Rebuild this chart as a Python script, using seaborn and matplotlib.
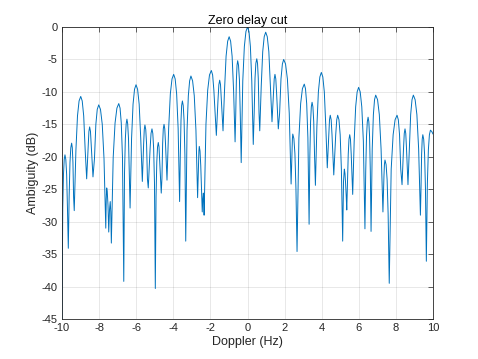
import numpy as np
import pandas as pd
import matplotlib
matplotlib.use('Agg')
import matplotlib.pyplot as plt
import seaborn as sns

# zero delay cut (nulls, shoulders, peaks)
doppler_hz = [
    -10.00, -9.96, -9.92, -9.88, -9.84, -9.795, -9.75, -9.705, -9.66,
    -9.615, -9.57, -9.525, -9.48, -9.445, -9.41, -9.375, -9.34,
    -9.25, -9.165, -9.08, -8.99, -8.91, -8.83, -8.75, -8.67,
    -8.59, -8.55, -8.51, -8.465, -8.42, -8.33,
    -8.25, -8.175, -8.10, -8.02, -7.925, -7.83, -7.735, -7.64,
    -7.615, -7.59, -7.56, -7.52, -7.48, -7.44, -7.40, -7.37, -7.34,
    -7.24, -7.14, -7.04, -6.94, -6.87, -6.805, -6.74, -6.67,
    -6.63, -6.585, -6.54, -6.50, -6.46, -6.415, -6.37, -6.33,
    -6.25, -6.17, -6.09, -6.01, -5.925, -5.84, -5.755, -5.67,
    -5.60, -5.565, -5.53, -5.485, -5.44, -5.395, -5.35,
    -5.25, -5.20, -5.15, -5.105, -5.06, -5.015, -4.97,
    -4.93, -4.89, -4.85, -4.81, -4.77, -4.73, -4.65,
    -4.6125, -4.575, -4.54, -4.50, -4.46, -4.42, -4.34,
    -4.25, -4.16, -4.07, -3.98, -3.90, -3.82, -3.74, -3.66,
    -3.6225, -3.585, -3.55, -3.51, -3.465, -3.42, -3.375, -3.33,
    -3.26, -3.19, -3.12, -3.05, -2.96, -2.87, -2.78, -2.69,
    -2.645, -2.62, -2.60, -2.56, -2.52, -2.44, -2.41, -2.38, -2.36, -2.34,
    -2.24, -2.145, -2.05, -1.95, -1.88, -1.815, -1.68,
    -1.59, -1.545, -1.50, -1.455, -1.41, -1.32,
    -1.24, -1.155, -1.07, -0.99, -0.91, -0.83, -0.75, -0.67,
    -0.635, -0.60, -0.565, -0.53, -0.485, -0.435, -0.39, -0.34,
    -0.255, -0.17, -0.085, 0.00, 0.08, 0.155, 0.23, 0.31,
    0.36, 0.405, 0.45, 0.50, 0.54, 0.58, 0.62, 0.66,
    0.74, 0.82, 0.90, 0.98, 1.065, 1.15, 1.235, 1.32,
    1.40, 1.44, 1.48, 1.525, 1.57, 1.66,
    1.73, 1.805, 1.88, 1.95, 2.05, 2.15, 2.25, 2.35,
    2.395, 2.42, 2.44, 2.50, 2.555, 2.61, 2.67,
    2.77, 2.865, 2.96, 3.06, 3.125, 3.19, 3.255, 3.32,
    3.36, 3.40, 3.44, 3.48, 3.525, 3.57, 3.615, 3.66,
    3.74, 3.82, 3.90, 3.98, 4.06, 4.14, 4.22, 4.30,
    4.38, 4.42, 4.46, 4.51, 4.555, 4.65,
    4.755, 4.81, 4.86, 4.93, 4.995, 5.06, 5.13,
    5.175, 5.22, 5.255, 5.285, 5.32, 5.35,
    5.43, 5.47, 5.51, 5.55, 5.59, 5.67,
    5.75, 5.83, 5.91, 5.99, 6.075, 6.16, 6.245, 6.33,
    6.3725, 6.415, 6.4575, 6.50, 6.54, 6.58, 6.62, 6.66,
    6.7225, 6.785, 6.8475, 6.91, 7.01, 7.105, 7.20, 7.30,
    7.355, 7.38, 7.41, 7.47, 7.525, 7.58, 7.64,
    7.745, 7.85, 7.955, 8.06, 8.13, 8.195, 8.26, 8.33,
    8.41, 8.45, 8.49, 8.53, 8.57, 8.65,
    8.7225, 8.795, 8.8675, 8.94, 9.035, 9.13, 9.225, 9.32,
    9.3525, 9.385, 9.4175, 9.45, 9.4975, 9.545, 9.5925, 9.64,
    9.695, 9.75, 9.805, 9.86, 9.93, 10.00,
]
ambiguity_db = [
    -45.0, -28.0, -22.7, -20.4, -19.7, -20.4, -22.7, -28.0, -34.1,
    -26.2, -20.9, -18.6, -17.9, -18.6, -20.9, -26.2, -28.3,
    -19.0, -13.7, -11.4, -10.7, -11.4, -13.7, -19.0, -23.4,
    -18.4, -16.1, -15.4, -16.1, -18.4, -23.1,
    -20.3, -15.0, -12.7, -12.0, -12.7, -15.0, -20.3, -31.0,
    -26.5, -24.8, -25.4, -27.5, -31.6, -28.2, -26.9, -28.5, -33.3,
    -20.1, -14.8, -12.5, -11.8, -12.5, -14.8, -20.1, -39.2,
    -22.5, -17.2, -14.9, -14.2, -14.9, -17.2, -22.5, -27.9,
    -17.2, -11.9, -9.6, -8.9, -9.6, -11.9, -17.2, -23.8,
    -18.1, -15.8, -15.1, -15.8, -18.1, -23.4, -24.8,
    -18.7, -16.4, -15.7, -16.4, -18.7, -24.0, -40.3,
    -26.1, -20.8, -18.5, -17.8, -18.5, -20.8, -25.6,
    -23.3, -18.0, -15.7, -15.0, -15.7, -18.0, -23.6,
    -15.6, -10.3, -8.0, -7.3, -8.0, -10.3, -15.6, -26.9,
    -19.7, -14.4, -12.1, -11.4, -12.1, -14.4, -19.7, -33.0,
    -15.9, -10.6, -8.3, -7.55, -8.3, -10.6, -15.9, -26.3,
    -21.4, -19.1, -18.4, -19.1, -21.4, -28.5, -26.5, -25.6, -26.5, -29.0,
    -15.0, -9.7, -7.4, -6.7, -7.4, -9.7, -16.7,
    -11.2, -8.9, -8.2, -8.9, -11.2, -16.0,
    -9.8, -4.5, -2.2, -1.5, -2.2, -4.5, -9.8, -17.7,
    -13.5, -8.2, -5.9, -5.2, -5.9, -8.2, -13.5, -20.9,
    -8.3, -3.0, -0.7, 0.0, -0.7, -3.0, -8.3, -18.1,
    -13.2, -7.9, -5.6, -4.9, -5.6, -7.9, -13.2, -16.0,
    -9.1, -3.8, -1.5, -0.8, -1.5, -3.8, -9.1, -14.6,
    -10.3, -8.0, -7.3, -8.0, -10.3, -15.7,
    -13.3, -8.0, -5.7, -5.0, -5.7, -8.0, -13.3, -24.2,
    -19.5, -17.2, -16.5, -17.2, -19.5, -24.8, -34.6,
    -17.1, -11.8, -9.5, -8.8, -9.5, -11.8, -17.1, -30.4,
    -19.9, -14.6, -12.3, -11.6, -12.3, -14.6, -19.9, -24.4,
    -15.3, -10.0, -7.7, -7.0, -7.7, -10.0, -15.3, -21.7,
    -16.6, -14.3, -13.6, -14.3, -16.6, -22.8,
    -16.6, -14.3, -13.6, -14.3, -16.6, -21.9, -33.0,
    -23.8, -21.9, -22.6, -24.0, -26.0, -28.2,
    -19.6, -17.3, -16.6, -17.3, -19.6, -25.8,
    -17.6, -12.3, -10.0, -9.3, -10.0, -12.3, -17.6, -31.1,
    -22.2, -16.9, -14.6, -13.9, -14.6, -16.9, -22.2, -31.5,
    -18.8, -13.5, -11.2, -10.5, -11.2, -13.5, -18.8, -28.5,
    -23.0, -21.2, -20.5, -21.2, -23.5, -28.8, -39.5,
    -21.9, -16.6, -14.3, -13.6, -14.3, -16.6, -21.9, -24.3,
    -18.7, -16.4, -15.7, -16.4, -18.7, -24.3,
    -18.8, -13.5, -11.2, -10.5, -11.2, -13.5, -18.8, -29.0,
    -24.9, -19.6, -17.3, -16.6, -17.3, -19.6, -24.9, -36.1,
    -24.2, -18.9, -16.6, -15.9, -16.1, -16.5,
]

x_ticks = list(range(-10, 11, 2))
y_ticks = list(range(-45, 1, 5))

sns.set_theme(style='white')
plt.rcParams['font.family'] = ['Liberation Sans', 'DejaVu Sans']
plt.rcParams['axes.unicode_minus'] = False

df = pd.DataFrame({'Doppler': doppler_hz, 'Ambiguity': ambiguity_db})

fig = plt.figure(figsize=(4.78, 3.59), dpi=100)
ax = fig.add_axes([0.1297, 0.1114, 0.7762, 0.8134])
sns.lineplot(data=df, x='Doppler', y='Ambiguity', ax=ax, color='#0072BD',
             linewidth=0.7, estimator=None, sort=False)

ax.set_xlim(-10, 10)
ax.set_ylim(-45, 0)
ax.set_xticks(x_ticks)
ax.set_yticks(y_ticks)
ax.grid(True, color='#262626', alpha=0.15, linewidth=0.5)
ax.set_axisbelow(True)
ax.tick_params(direction='in', length=3.5, width=0.5, colors='#262626',
               labelsize=8, top=True, right=True, pad=3)
for s in ax.spines.values():
    s.set_visible(True)
    s.set_color('#262626')
    s.set_linewidth(0.6)

ax.set_title('Zero delay cut', fontsize=9, color='#000000', pad=2)
ax.set_xlabel('Doppler (Hz)', fontsize=9, color='#262626', labelpad=2)
ax.set_ylabel('Ambiguity (dB)', fontsize=9, color='#262626', labelpad=2)

fig.savefig('out.png', dpi=100)
